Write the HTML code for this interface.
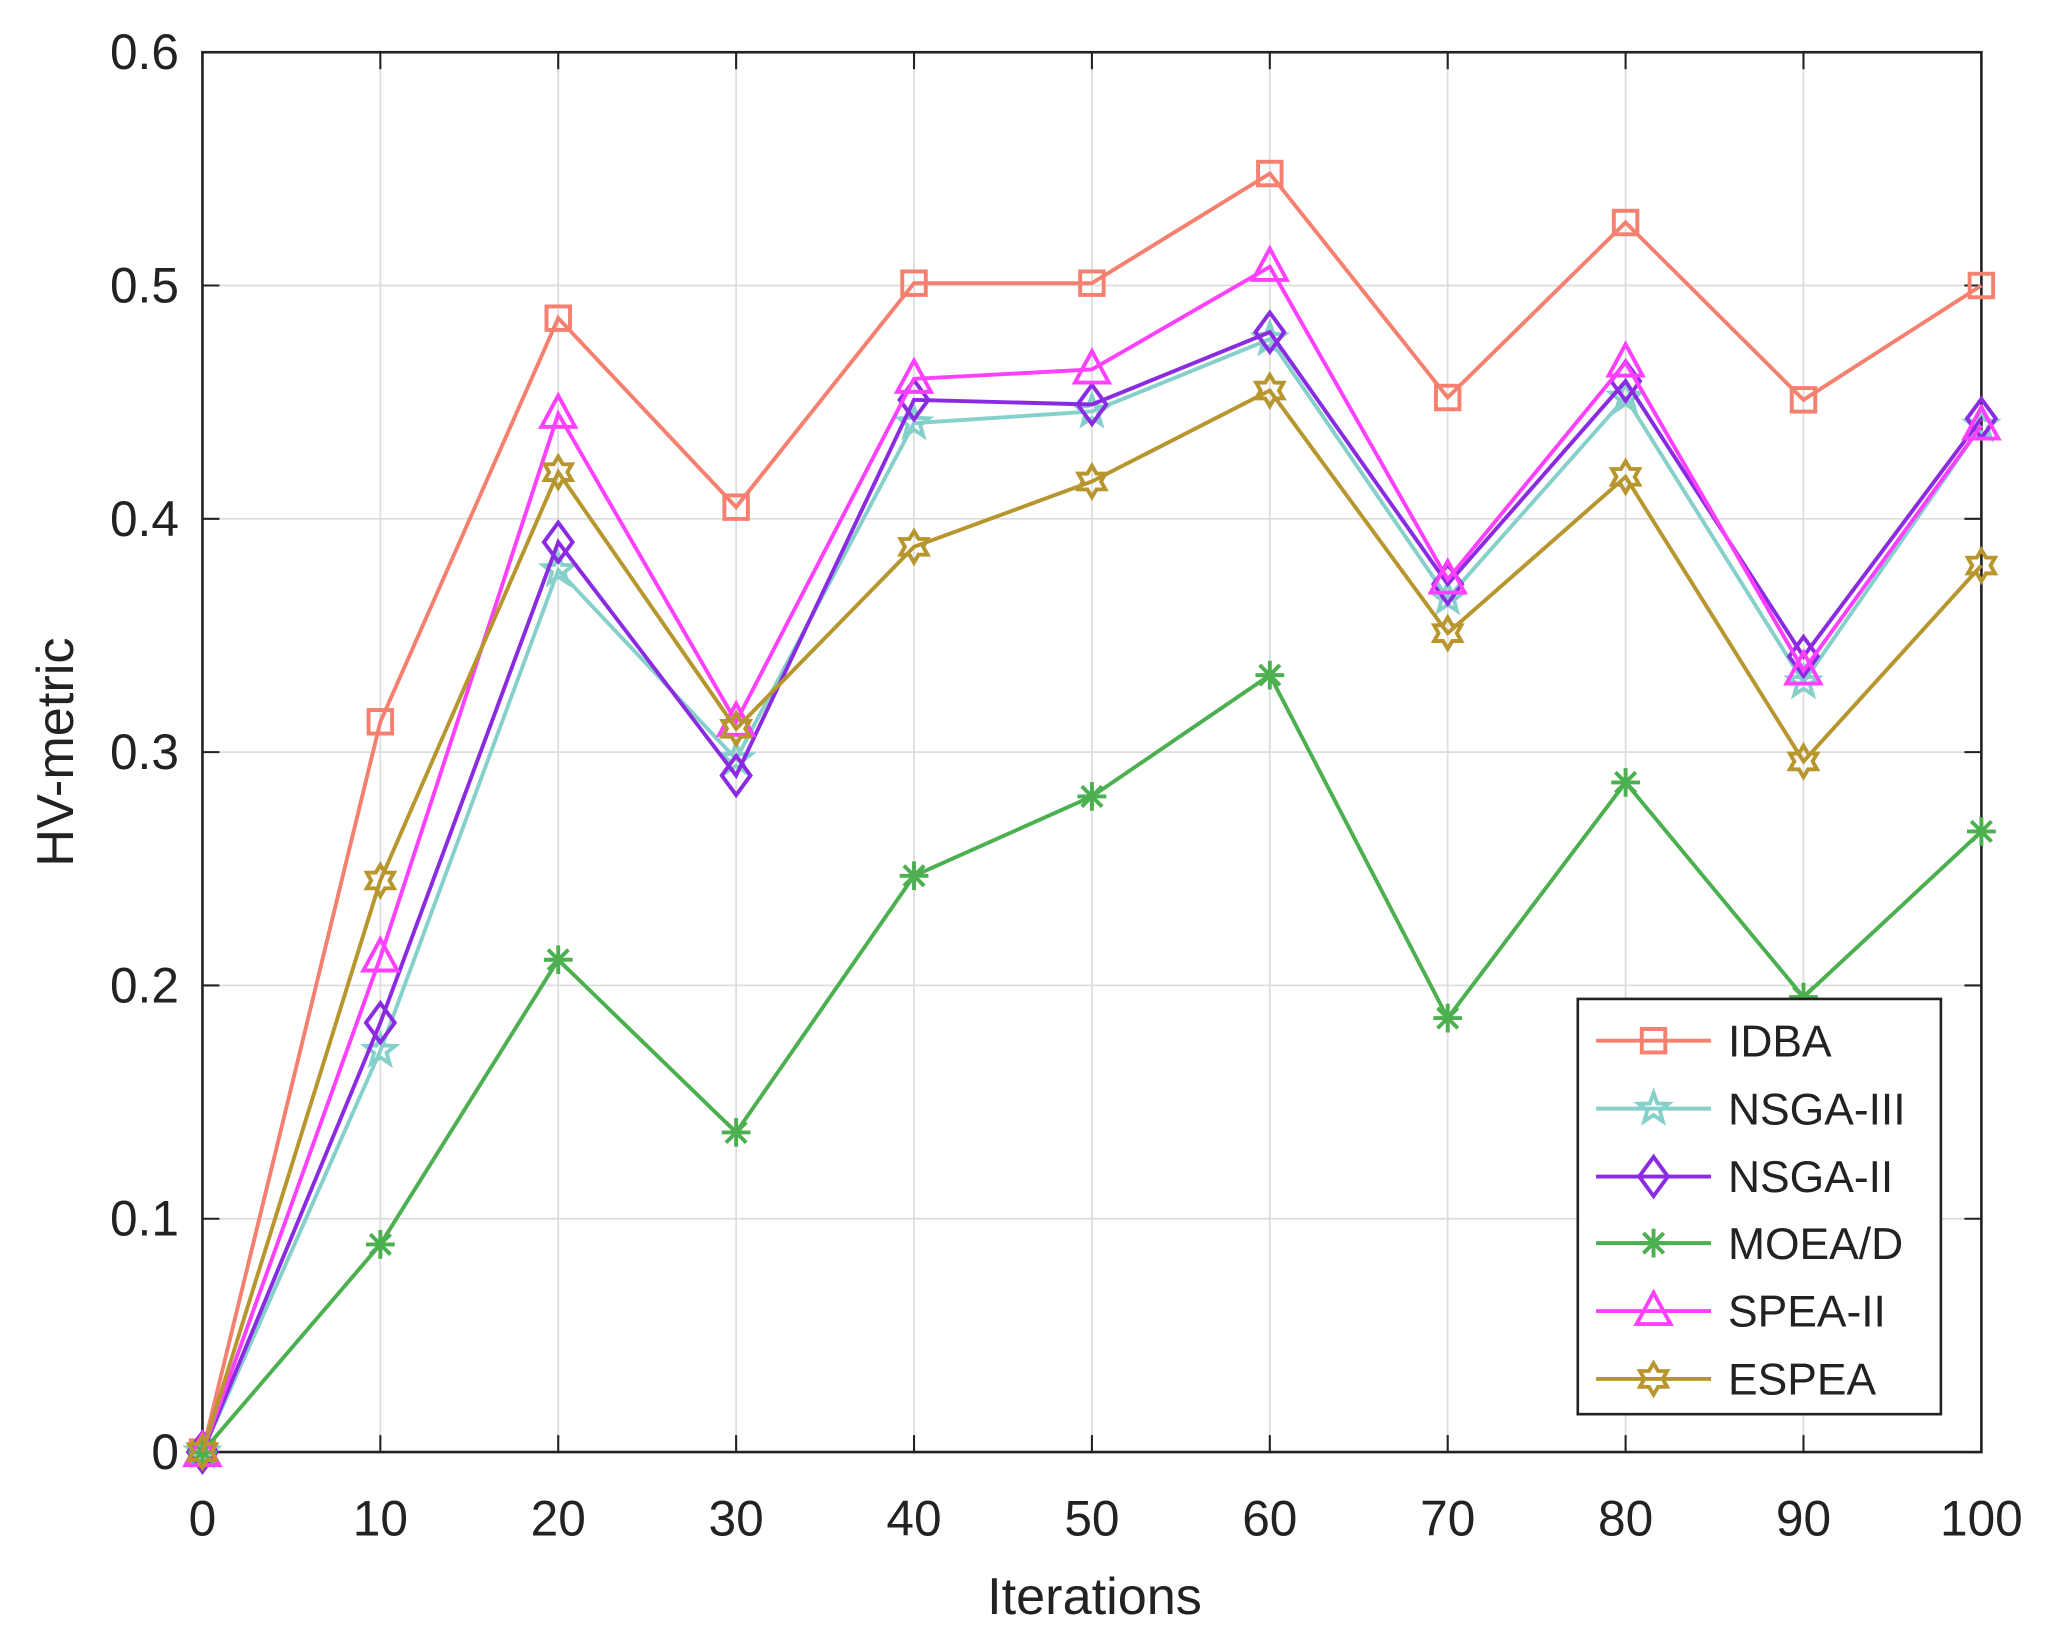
<!DOCTYPE html>
<html><head><meta charset="utf-8"><style>html,body{margin:0;padding:0;background:#fff}svg{display:block}</style></head>
<body>
<svg id="s" xmlns="http://www.w3.org/2000/svg" width="2048" height="1644" viewBox="0 0 1568 1259" preserveAspectRatio="none" font-family="Liberation Sans, Arial, sans-serif">
<rect x="0" y="0" width="1568" height="1259" fill="#fff"/>
<g id="grid" stroke="#dcdcdc" stroke-width="1.3"></g>
<rect x="155" y="40" width="1362" height="1072" fill="none" stroke="#222" stroke-width="2"/>
<g id="ticks" stroke="#222" stroke-width="1.6"></g>
<g id="labels" font-size="38" fill="#222"></g>
<text x="838" y="1236" font-size="40" text-anchor="middle" fill="#222">Iterations</text>
<text transform="translate(56,576) rotate(-90)" font-size="40" text-anchor="middle" fill="#222">HV-metric</text>
<g id="series"></g>
<rect x="1208" y="765" width="278" height="318" fill="#fff" stroke="#222" stroke-width="2"/>
<g id="legend" font-size="34" fill="#222">
<text x="1323" y="809">IDBA</text>
<text x="1323" y="861">NSGA-III</text>
<text x="1323" y="913">NSGA-II</text>
<text x="1323" y="964">MOEA/D</text>
<text x="1323" y="1016">SPEA-II</text>
<text x="1323" y="1068">ESPEA</text>
</g>
<g id="lg"></g>
</svg>
<script>
const NS="http://www.w3.org/2000/svg";
function el(p,t,a){const e=document.createElementNS(NS,t);for(const k in a)e.setAttribute(k,a[k]);p.appendChild(e);return e;}
const X=v=>155+v*13.62, Y=v=>1112-v*1786.7;
const g=document.getElementById('grid'),tk=document.getElementById('ticks'),lb=document.getElementById('labels');
for(let i=0;i<=10;i++){const x=X(i*10);if(i>0&&i<10)el(g,'line',{x1:x,x2:x,y1:40,y2:1112});
el(tk,'line',{x1:x,x2:x,y1:1112,y2:1099});el(tk,'line',{x1:x,x2:x,y1:40,y2:53});
const t=el(lb,'text',{x:x,y:1176,'text-anchor':'middle'});t.textContent=i*10;}
for(let i=0;i<=6;i++){const y=Y(i/10);if(i>0&&i<6)el(g,'line',{x1:155,x2:1517,y1:y,y2:y});
el(tk,'line',{x1:155,x2:168,y1:y,y2:y});el(tk,'line',{x1:1517,x2:1504,y1:y,y2:y});
const t=el(lb,'text',{x:137,y:y+13,'text-anchor':'end'});t.textContent=i==0?'0':(i/10).toFixed(1);}
const S=[
["#f5806f","sq",[0,.313,.486,.405,.501,.501,.548,.452,.527,.451,.500]],
["#86d0cc","star",[0,.172,.378,.297,.441,.446,.477,.366,.452,.330,.440]],
["#8a2be2","dia",[0,.184,.390,.290,.451,.449,.480,.372,.459,.341,.443]],
["#4caf50","ast",[0,.089,.211,.137,.247,.281,.333,.186,.287,.195,.266]],
["#ff40ff","tri",[0,.212,.445,.313,.460,.464,.508,.374,.467,.335,.440]],
["#b8962e","hex",[0,.245,.420,.310,.388,.416,.455,.351,.418,.296,.380]]];
const sg=document.getElementById('series');
function star(n,R,r,x,y,rot){let p=[];for(let i=0;i<2*n;i++){const a=rot+i*Math.PI/n,rr=i%2?r:R;p.push((x+rr*Math.sin(a)).toFixed(1)+','+(y-rr*Math.cos(a)).toFixed(1));}return p.join(' ');}
function mk(p,c,t,x,y){const a={fill:'none',stroke:c,'stroke-width':3};
if(t=='sq')el(p,'rect',Object.assign({x:x-9,y:y-9,width:18,height:18},a));
else if(t=='dia')el(p,'polygon',Object.assign({points:`${x},${y-15} ${x+11},${y} ${x},${y+15} ${x-11},${y}`},a));
else if(t=='tri')el(p,'polygon',Object.assign({points:`${x},${y-14} ${x+13},${y+10} ${x-13},${y+10}`},a));
else if(t=='star')el(p,'polygon',Object.assign({points:star(5,12,5,x,y,0)},a));
else if(t=='hex')el(p,'polygon',Object.assign({points:star(6,12,7,x,y,0)},a));
else {for(let k=0;k<4;k++){const an=k*Math.PI/4;el(p,'line',Object.assign({x1:x-11*Math.sin(an),y1:y-11*Math.cos(an),x2:x+11*Math.sin(an),y2:y+11*Math.cos(an)},a));}}}
S.forEach(([c,t,d])=>{el(sg,'polyline',{points:d.map((v,i)=>X(i*10)+','+Y(v)).join(' '),fill:'none',stroke:c,'stroke-width':3});
d.forEach((v,i)=>mk(sg,c,t,X(i*10),Y(v)));});
const ly=[797,849,901,952,1004,1056];const lg=document.getElementById('lg');
S.forEach(([c,t],i)=>{el(lg,'line',{x1:1222,x2:1310,y1:ly[i],y2:ly[i],stroke:c,'stroke-width':3});mk(lg,c,t,1266,ly[i]);});
</script>
</body></html>
